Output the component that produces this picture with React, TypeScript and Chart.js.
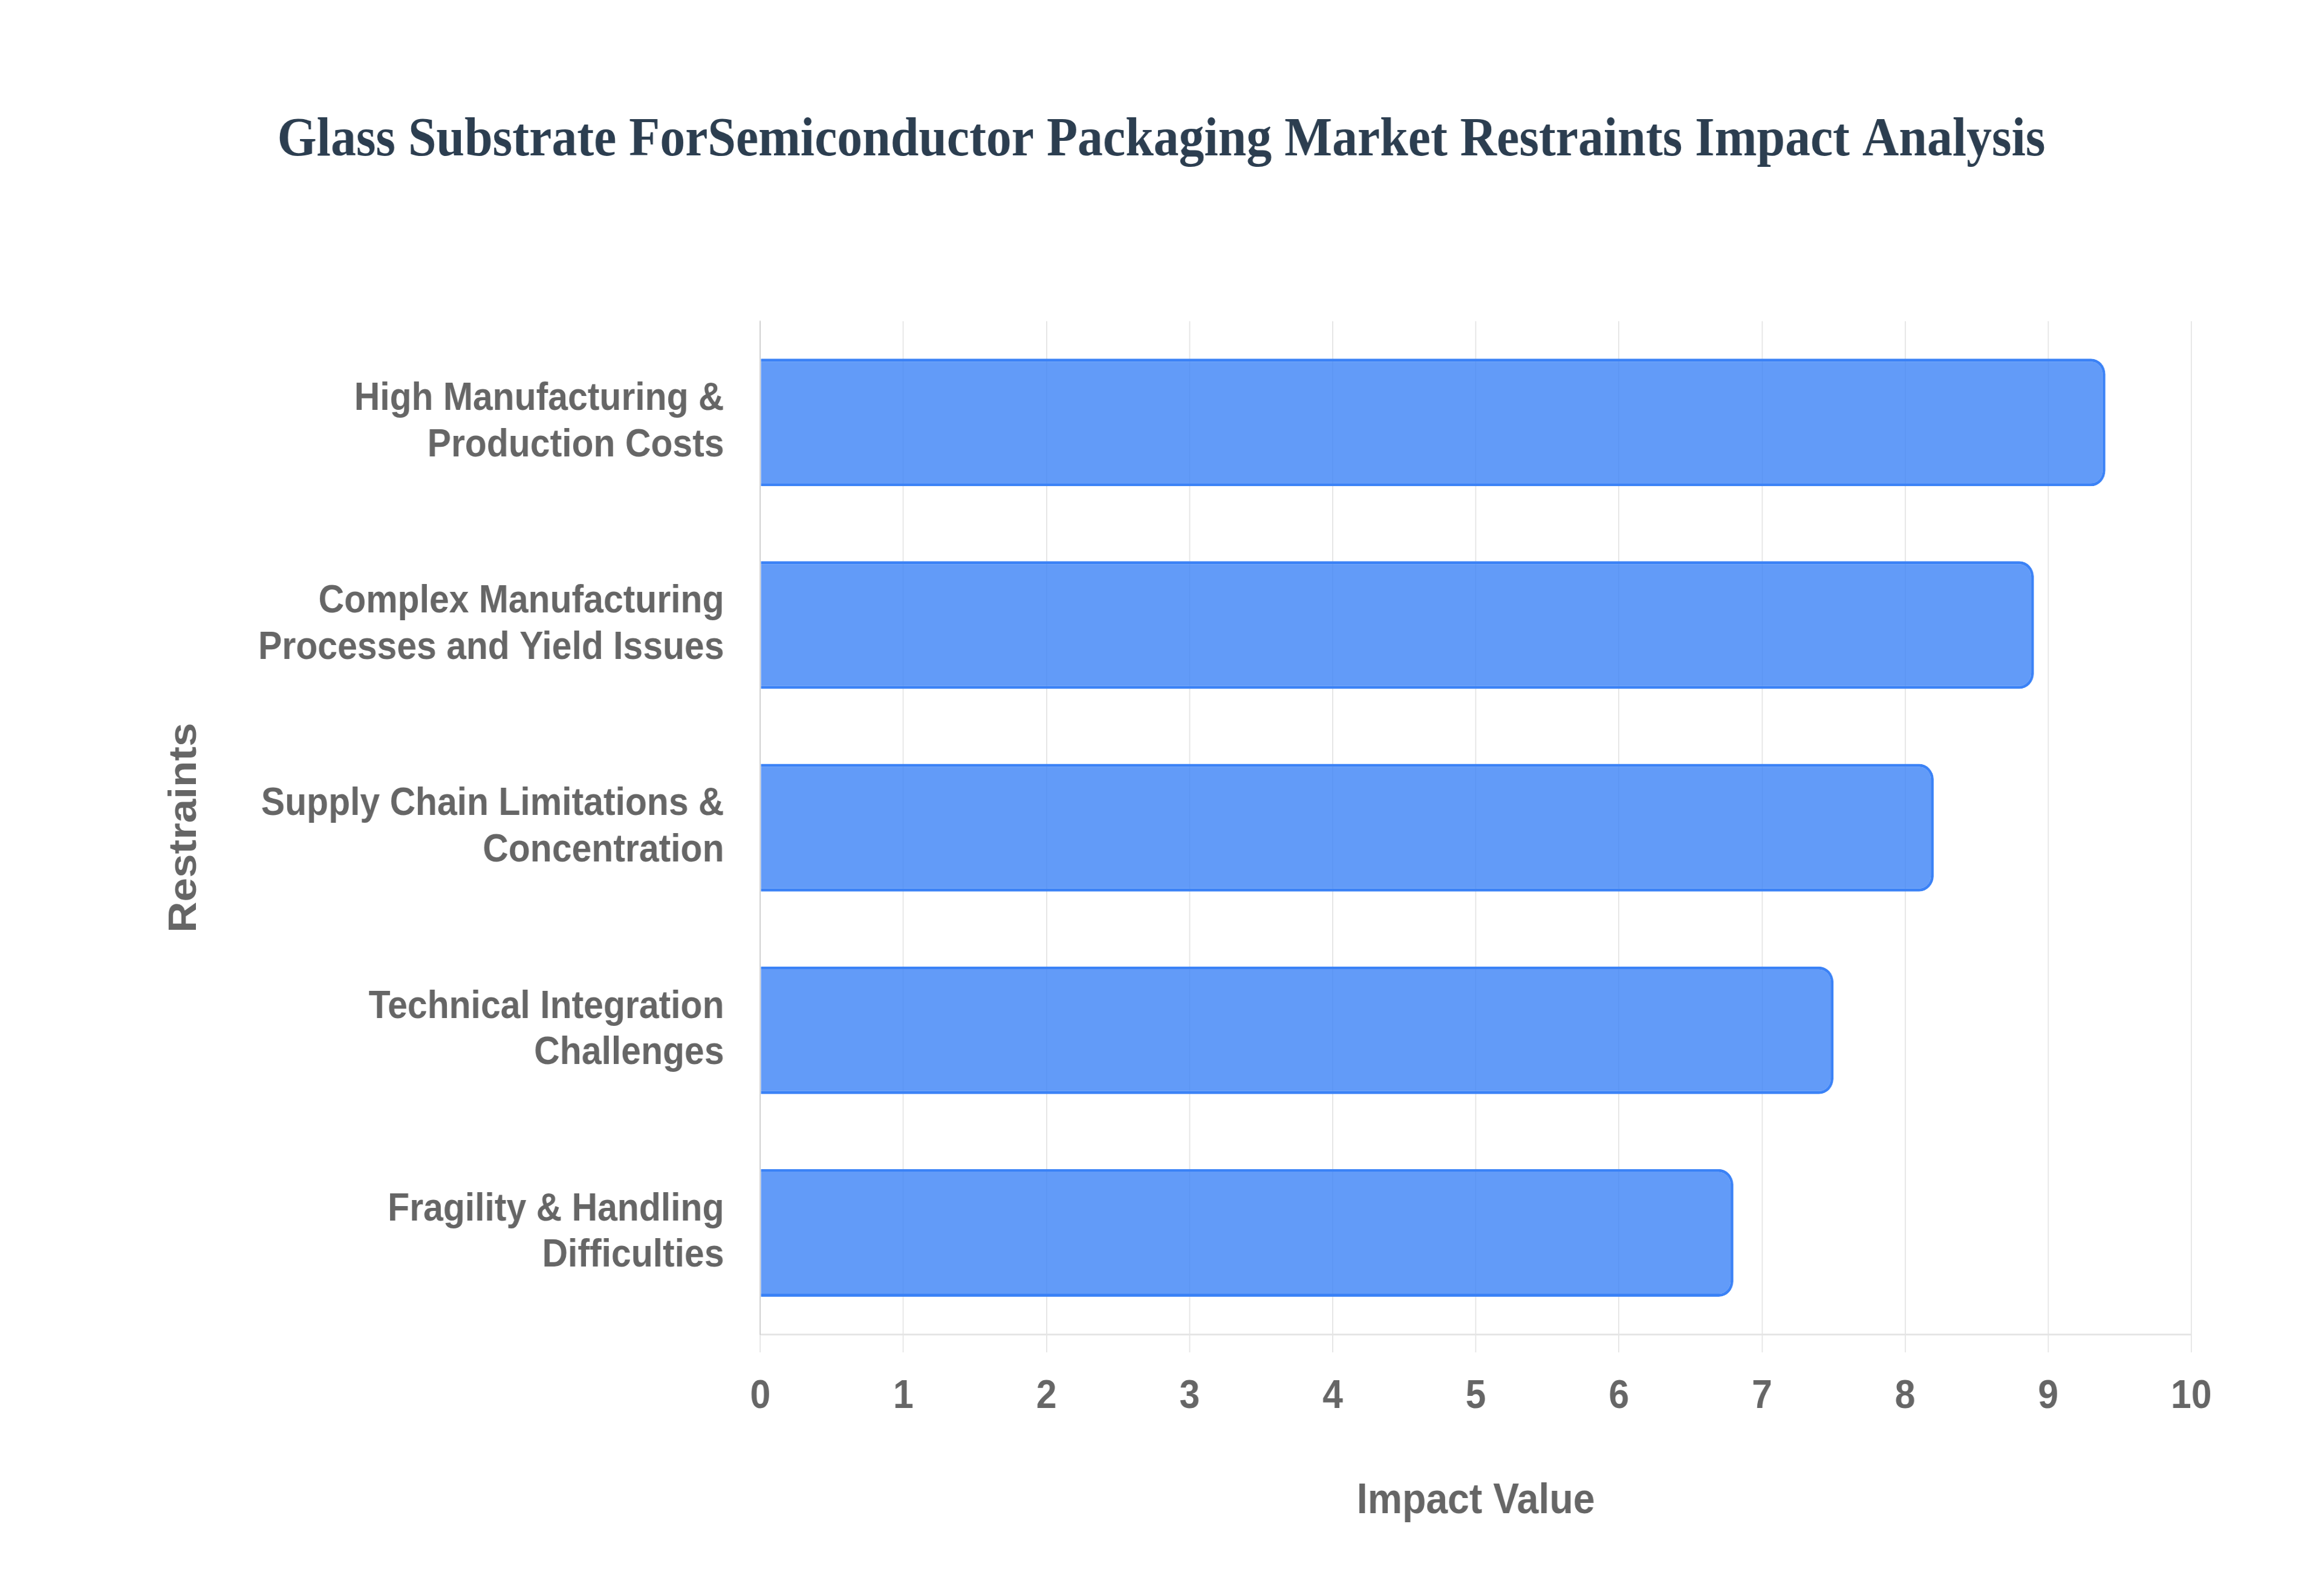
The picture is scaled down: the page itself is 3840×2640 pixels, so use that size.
import { useEffect, useRef } from 'react';
import Chart from 'chart.js/auto';

const TITLE = 'Glass Substrate ForSemiconductor Packaging Market Restraints Impact Analysis';

const restraints: string[][] = [
  ['High Manufacturing &', 'Production Costs'],
  ['Complex Manufacturing', 'Processes and Yield Issues'],
  ['Supply Chain Limitations &', 'Concentration'],
  ['Technical Integration', 'Challenges'],
  ['Fragility & Handling', 'Difficulties']
];

const impactValues = [9.4, 8.9, 8.2, 7.5, 6.8];

const xMin = 0;
const xMax = 10;
const xStep = 1;

const C = {
  bar: 'rgba(59, 130, 246, 0.8)',
  barBorder: 'rgb(59, 130, 246)',
  text: '#666666',
  title: '#2c3e50',
  grid: 'rgba(0, 0, 0, 0.1)'
};

const SANS = "'Liberation Sans', Arial, sans-serif";

// the reference is slightly squeezed horizontally, so the canvas is drawn wider and scaled back
const SX = 0.92;
const W = 3840 / SX;

export default function App() {
  const canvasRef = useRef<HTMLCanvasElement | null>(null);

  useEffect(() => {
    if (!canvasRef.current) return;

    const chart = new Chart(canvasRef.current, {
      type: 'bar',
      data: {
        labels: restraints,
        datasets: [
          {
            label: 'Impact Value',
            data: impactValues,
            yAxisID: 'y',
            backgroundColor: C.bar,
            borderColor: C.barBorder,
            borderWidth: 5,
            borderRadius: 26,
            barPercentage: 0.7,
            categoryPercentage: 0.9
          }
        ]
      },
      options: {
        indexAxis: 'y',
        animation: false,
        responsive: true,
        maintainAspectRatio: false,
        layout: {
          padding: 0
        },
        plugins: {
          legend: { display: false },
          tooltip: { enabled: false },
          title: {
            display: true,
            text: TITLE,
            color: C.title,
            font: { family: "'Liberation Serif', 'Times New Roman', serif", size: 91, weight: 'bold', lineHeight: 1.2 },
            padding: { top: 179, bottom: 243 }
          }
        },
        scales: {
          x: {
            min: xMin,
            max: xMax,
            ticks: {
              stepSize: xStep,
              color: C.text,
              padding: 34,
              font: { family: SANS, size: 66, weight: 'bold' }
            },
            grid: {
              color: C.grid,
              lineWidth: 2,
              tickLength: 30
            },
            border: { color: C.grid, width: 3 },
            title: {
              display: true,
              text: 'Impact Value',
              color: C.text,
              font: { family: SANS, size: 70, weight: 'bold', lineHeight: 1.2 },
              padding: { top: 0, bottom: 114 }
            },
            afterFit: (scale: any) => {
              scale.height = 433;
            }
          },
          y: {
            ticks: {
              color: C.text,
              padding: 65,
              font: { family: SANS, size: 64, weight: 'bold', lineHeight: 1.2 }
            },
            grid: { display: false, drawTicks: false },
            border: { color: C.grid, width: 2 },
            title: {
              display: true,
              text: 'Restraints',
              color: C.text,
              font: { family: SANS, size: 71, weight: 'bold', lineHeight: 1.2 },
              padding: { top: 290, bottom: 0 }
            },
            afterFit: (scale: any) => {
              scale.width = 1257 / SX;
            }
          },
          // empty right-hand axis that only reserves the margin right of the plot
          yRight: {
            type: 'linear',
            position: 'right',
            grid: { display: false, drawTicks: false },
            border: { display: false },
            ticks: { display: false },
            afterFit: (scale: any) => {
              scale.width = 217 / SX;
            }
          }
        }
      }
    });

    return () => {
      chart.destroy();
    };
  }, []);

  return (
    <div style={{ position: 'absolute', left: 0, top: 0, width: '3840px', height: '2640px', overflow: 'hidden', background: '#ffffff' }}>
      <div style={{ width: W + 'px', height: '2640px', transform: `scaleX(${SX})`, transformOrigin: '0 0' }}>
        <canvas ref={canvasRef}></canvas>
      </div>
    </div>
  );
}
